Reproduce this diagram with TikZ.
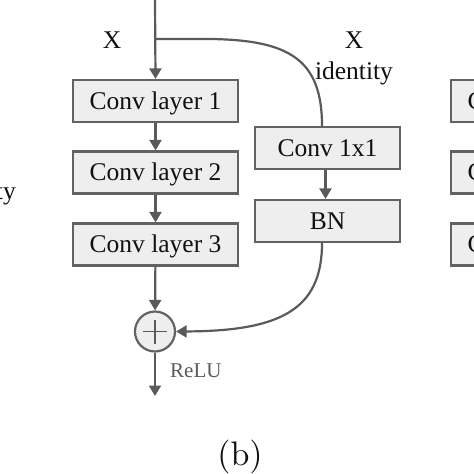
\documentclass[tikz,border=0pt]{standalone}
\usepackage{fontspec}
\usepackage{tikz}
\usetikzlibrary{arrows.meta}
\newfontfamily\timesfont{Liberation Serif}
\newfontfamily\capfont{lmroman10-regular.otf}
\definecolor{linegray}{HTML}{5A5A5A}
\definecolor{boxfill}{HTML}{EEEEEE}
\definecolor{boxline}{HTML}{626262}
\definecolor{textblack}{HTML}{111111}
\tikzset{
  layerbox/.style={draw=boxline, fill=boxfill, line width=2.2pt, minimum height=42pt, inner sep=0pt,
    font=\timesfont\fontsize{25.5}{30}\selectfont, text=textblack, text height=16.8pt, text depth=0pt},
  flow/.style={draw=linegray, line width=2.2pt, -{Triangle[width=12pt,length=10.5pt]}},
  lbl/.style={font=\timesfont\fontsize{25.5}{30}\selectfont, text=textblack, inner sep=0pt}
}
\begin{document}
\begin{tikzpicture}[x=1pt,y=-1pt]
    \useasboundingbox (0,0) rectangle (474,474);
    \clip (0,0) rectangle (474,474);
    \node[layerbox, minimum width=165pt] (conv1) at (155.5,101) {Conv layer 1};
    \node[layerbox, minimum width=165pt] (conv2) at (155.5,172.5) {Conv layer 2};
    \node[layerbox, minimum width=165pt] (conv3) at (155.5,244.5) {Conv layer 3};
    \node[layerbox, minimum width=145pt] (conv1x1) at (327.5,148) {Conv 1x1};
    \node[layerbox, minimum width=145pt] (bn) at (327.5,221) {BN};
    \node[layerbox, minimum width=165pt] (convc1) at (533.5,101) {Conv layer 1};
    \node[layerbox, minimum width=165pt] (convc2) at (533.5,172.5) {Conv layer 2};
    \node[layerbox, minimum width=165pt] (convc3) at (533.5,244.5) {Conv layer 3};
    \node[circle, draw=boxline, fill=boxfill, line width=2.2pt, minimum size=40pt, inner sep=0pt] (add) at (155,331.5) {};
    \draw[linegray, line width=1.6pt] ([xshift=-12pt]add.center) -- ([xshift=12pt]add.center);
    \draw[linegray, line width=1.6pt] ([yshift=-12pt]add.center) -- ([yshift=12pt]add.center);
    \node[lbl, anchor=base] (xmain) at (112,48) {X};
    \node[lbl, anchor=base] (xid) at (354,48) {X};
    \node[lbl, anchor=base] (ident) at (354,79) {identity};
    \node[lbl, anchor=base east] (identa) at (16,199) {identity};
    \node[anchor=base west, inner sep=0pt, font=\timesfont\fontsize{21}{25}\selectfont, text=linegray] (relu) at (170,377) {ReLU};
    \node[anchor=base, inner sep=0pt, font=\capfont\fontsize{34}{40}\selectfont, text=textblack] (caption) at (240,465) {(b)};
    \coordinate (in) at (155,0);
    \coordinate (split) at (155,39);
    \coordinate (bend) at (210,39);
    \coordinate (out) at (155,396);
    \draw[flow] (in) -- (conv1.north);
    \draw[flow] (conv1) -- (conv2);
    \draw[flow] (conv2) -- (conv3);
    \draw[flow] (conv3) -- (add);
    \draw[flow] (add) -- (out);
    \draw[flow] ([xshift=-2pt]conv1x1.south) -- ([xshift=-2pt]bn.north);
    \draw[draw=linegray, line width=2.2pt] (split) -- (bend) .. controls (290,40) and (322,60) .. ([xshift=-5.5pt]conv1x1.north);
    \draw[flow] ([xshift=-5.5pt]bn.south) .. controls (322,310) and (280,331) .. (add.east);
\end{tikzpicture}
\end{document}
